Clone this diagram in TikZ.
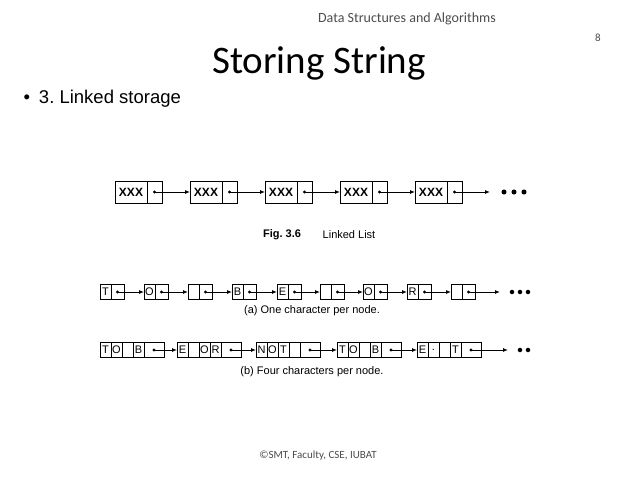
\documentclass[tikz,border=0pt]{standalone}
\usepackage{fontspec}
\setmainfont{Carlito}
\newfontfamily\arial{Liberation Sans}
\usetikzlibrary{arrows.meta}
\newcommand{\fs}[1]{\fontsize{#1}{#1}\selectfont}
\frenchspacing
\begin{document}
\begin{tikzpicture}[x=1pt,y=-1pt,
  cell/.style={draw,line width=0.8pt,inner sep=0pt,outer sep=0pt,font=\arial\fs{11}},
  lnk/.style={line width=0.9pt,-{Latex[length=5pt,width=4pt]}},
  dotc/.style={circle,fill,inner sep=1.2pt},
  bigdot/.style={circle,fill,inner sep=1.8pt}]
\useasboundingbox (0,0) rectangle (638,478);
\node[font=\fs{14},text=black!70] (hdr) at (407,19) {Data Structures and Algorithms};
\node[font=\fs{11},text=black!70] (pg) at (598,38) {8};
\node[font=\fs{39}] (title) at (319,63) {Storing String};
\node[anchor=west,font=\arial\fs{18.5}] (bul) at (20,99) {\textbullet\hspace{9pt}3. Linked storage};
\node[font=\fs{11},text=black!70] (ft) at (318,456) {©SMT, Faculty, CSE, IUBAT};
% row 1
\foreach \i/\x in {1/115,2/190,3/265,4/340,5/415}{
  \node[cell,minimum width=32pt,minimum height=22pt,anchor=west,font=\arial\bfseries\fs{12}] (d\i) at (\x,192) {XXX};
  \node[cell,minimum width=15pt,minimum height=22pt,anchor=west] (p\i) at (d\i.east) {};
  \node[dotc] at (p\i.center) {};
}
\coordinate (e1) at (490,192);
\foreach \i/\j in {1/2,2/3,3/4,4/5}{\draw[lnk] (p\i.center) -- (d\j.west);}
\draw[lnk] (p5.center) -- (e1);
\foreach \x in {504,514,524}{\node[bigdot] at (\x,192) {};}
\node[font=\arial\bfseries\fs{11}] (cap1) at (282,235) {Fig. 3.6};
\node[font=\arial\fs{11}] (cap1b) at (349,235) {Linked List};
% row 2
\foreach \i/\x/\c in {1/100/T,2/144/O,3/188/,4/232/B,5/277/E,6/320/,7/363/O,8/407/R,9/451/}{
  \node[cell,minimum width=11pt,minimum height=15pt,anchor=west] (s\i) at (\x,292) {\c};
  \node[cell,minimum width=13pt,minimum height=15pt,anchor=west] (q\i) at (s\i.east) {};
  \node[dotc] at (q\i.center) {};
}
\foreach \i [count=\j from 2] in {1,...,8}{\draw[lnk] (q\i.center) -- (s\j.west);}
\coordinate (e2) at (500,292);
\draw[lnk] (q9.center) -- (e2);
\foreach \x in {512,520,528}{\node[bigdot,inner sep=1.6pt] at (\x,292) {};}
\node[font=\arial\fs{11}] (cap2) at (312,311) {(a) One character per node.};
% row 3
\foreach \i/\x/\a/\b/\c/\d in {1/100/T/O//B,2/177/E//O/R,3/256/N/O/T/,4/337/T/O//B,5/417/E/./ /T}{
  \node[cell,minimum width=11pt,minimum height=15pt,anchor=west] (u\i) at (\x,350) {\a};
  \node[cell,minimum width=11pt,minimum height=15pt,anchor=west] (v\i) at (u\i.east) {\b};
  \node[cell,minimum width=11pt,minimum height=15pt,anchor=west] (w\i) at (v\i.east) {\c};
  \node[cell,minimum width=11pt,minimum height=15pt,anchor=west] (z\i) at (w\i.east) {\d};
  \node[cell,minimum width=20pt,minimum height=15pt,anchor=west] (r\i) at (z\i.east) {};
  \node[dotc] at (r\i.center) {};
}
\foreach \i [count=\j from 2] in {1,...,4}{\draw[lnk] (r\i.center) -- (u\j.west);}
\coordinate (e3) at (508,350);
\draw[lnk] (r5.center) -- (e3);
\foreach \x in {520,528}{\node[bigdot,inner sep=1.6pt] at (\x,350) {};}
\node[font=\arial\fs{11}] (cap3) at (312,372) {(b) Four characters per node.};
\end{tikzpicture}
\end{document}
